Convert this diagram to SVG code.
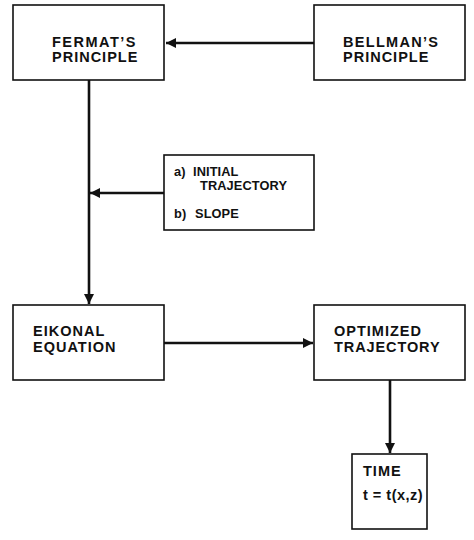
<svg xmlns="http://www.w3.org/2000/svg" width="474" height="540" viewBox="0 0 474 540">
<style>
.box{fill:#fff;stroke:#111;stroke-width:1.6}
.t{font-family:"Liberation Sans",Arial,sans-serif;font-weight:bold;font-size:14.5px;letter-spacing:1px;fill:#111}
.s{font-family:"Liberation Sans",Arial,sans-serif;font-weight:bold;font-size:12.8px;letter-spacing:0.1px;fill:#111}
.c{fill:none;stroke:#111;stroke-width:2.6}
</style>
<defs>
<marker id="ah" viewBox="0 0 10 10" refX="10" refY="5" markerWidth="11" markerHeight="10" markerUnits="userSpaceOnUse" orient="auto">
<path d="M0,0 L10,5 L0,10 z" fill="#111"/>
</marker>
<marker id="ah2" viewBox="0 0 10 10" refX="10" refY="5" markerWidth="15" markerHeight="10" markerUnits="userSpaceOnUse" orient="auto">
<path d="M0,0 L10,5 L0,10 z" fill="#111"/>
</marker>
</defs>
<rect width="474" height="540" fill="#fff"/>
<g id="connectors">
<line class="c" x1="314" y1="43" x2="166" y2="43" marker-end="url(#ah)"/>
<line class="c" x1="89" y1="80" x2="89" y2="304" marker-end="url(#ah2)"/>
<line class="c" x1="164" y1="193" x2="90" y2="193" marker-end="url(#ah)"/>
<line class="c" x1="164" y1="343" x2="313" y2="343" marker-end="url(#ah)"/>
<line class="c" x1="390" y1="380" x2="390" y2="453" marker-end="url(#ah2)"/>
</g>
<g id="fermat">
<rect class="box" x="13" y="5" width="151" height="75"/>
<text class="t" x="52" y="47" style="letter-spacing:1.5px">FERMAT’S</text>
<text class="t" x="52" y="62">PRINCIPLE</text>
</g>
<g id="bellman">
<rect class="box" x="314" y="5" width="151" height="75"/>
<text class="t" x="343" y="47" style="letter-spacing:1.3px">BELLMAN’S</text>
<text class="t" x="343" y="62">PRINCIPLE</text>
</g>
<g id="initial">
<rect class="box" x="164" y="155" width="150" height="75"/>
<text class="s" x="174" y="176">a)<tspan x="193">INITIAL</tspan></text>
<text class="s" x="200" y="190">TRAJECTORY</text>
<text class="s" x="174" y="218">b)<tspan x="195">SLOPE</tspan></text>
</g>
<g id="eikonal">
<rect class="box" x="13" y="305" width="151" height="75"/>
<text class="t" x="33" y="336">EIKONAL</text>
<text class="t" x="33" y="352">EQUATION</text>
</g>
<g id="optimized">
<rect class="box" x="314" y="305" width="151" height="75"/>
<text class="t" x="334" y="336">OPTIMIZED</text>
<text class="t" x="334" y="352" style="letter-spacing:0.9px">TRAJECTORY</text>
</g>
<g id="time">
<rect class="box" x="352" y="454" width="75" height="75"/>
<text class="t" x="363" y="476">TIME</text>
<text class="t" x="363" y="500" style="letter-spacing:0.5px">t = t(x,z)</text>
</g>
</svg>
